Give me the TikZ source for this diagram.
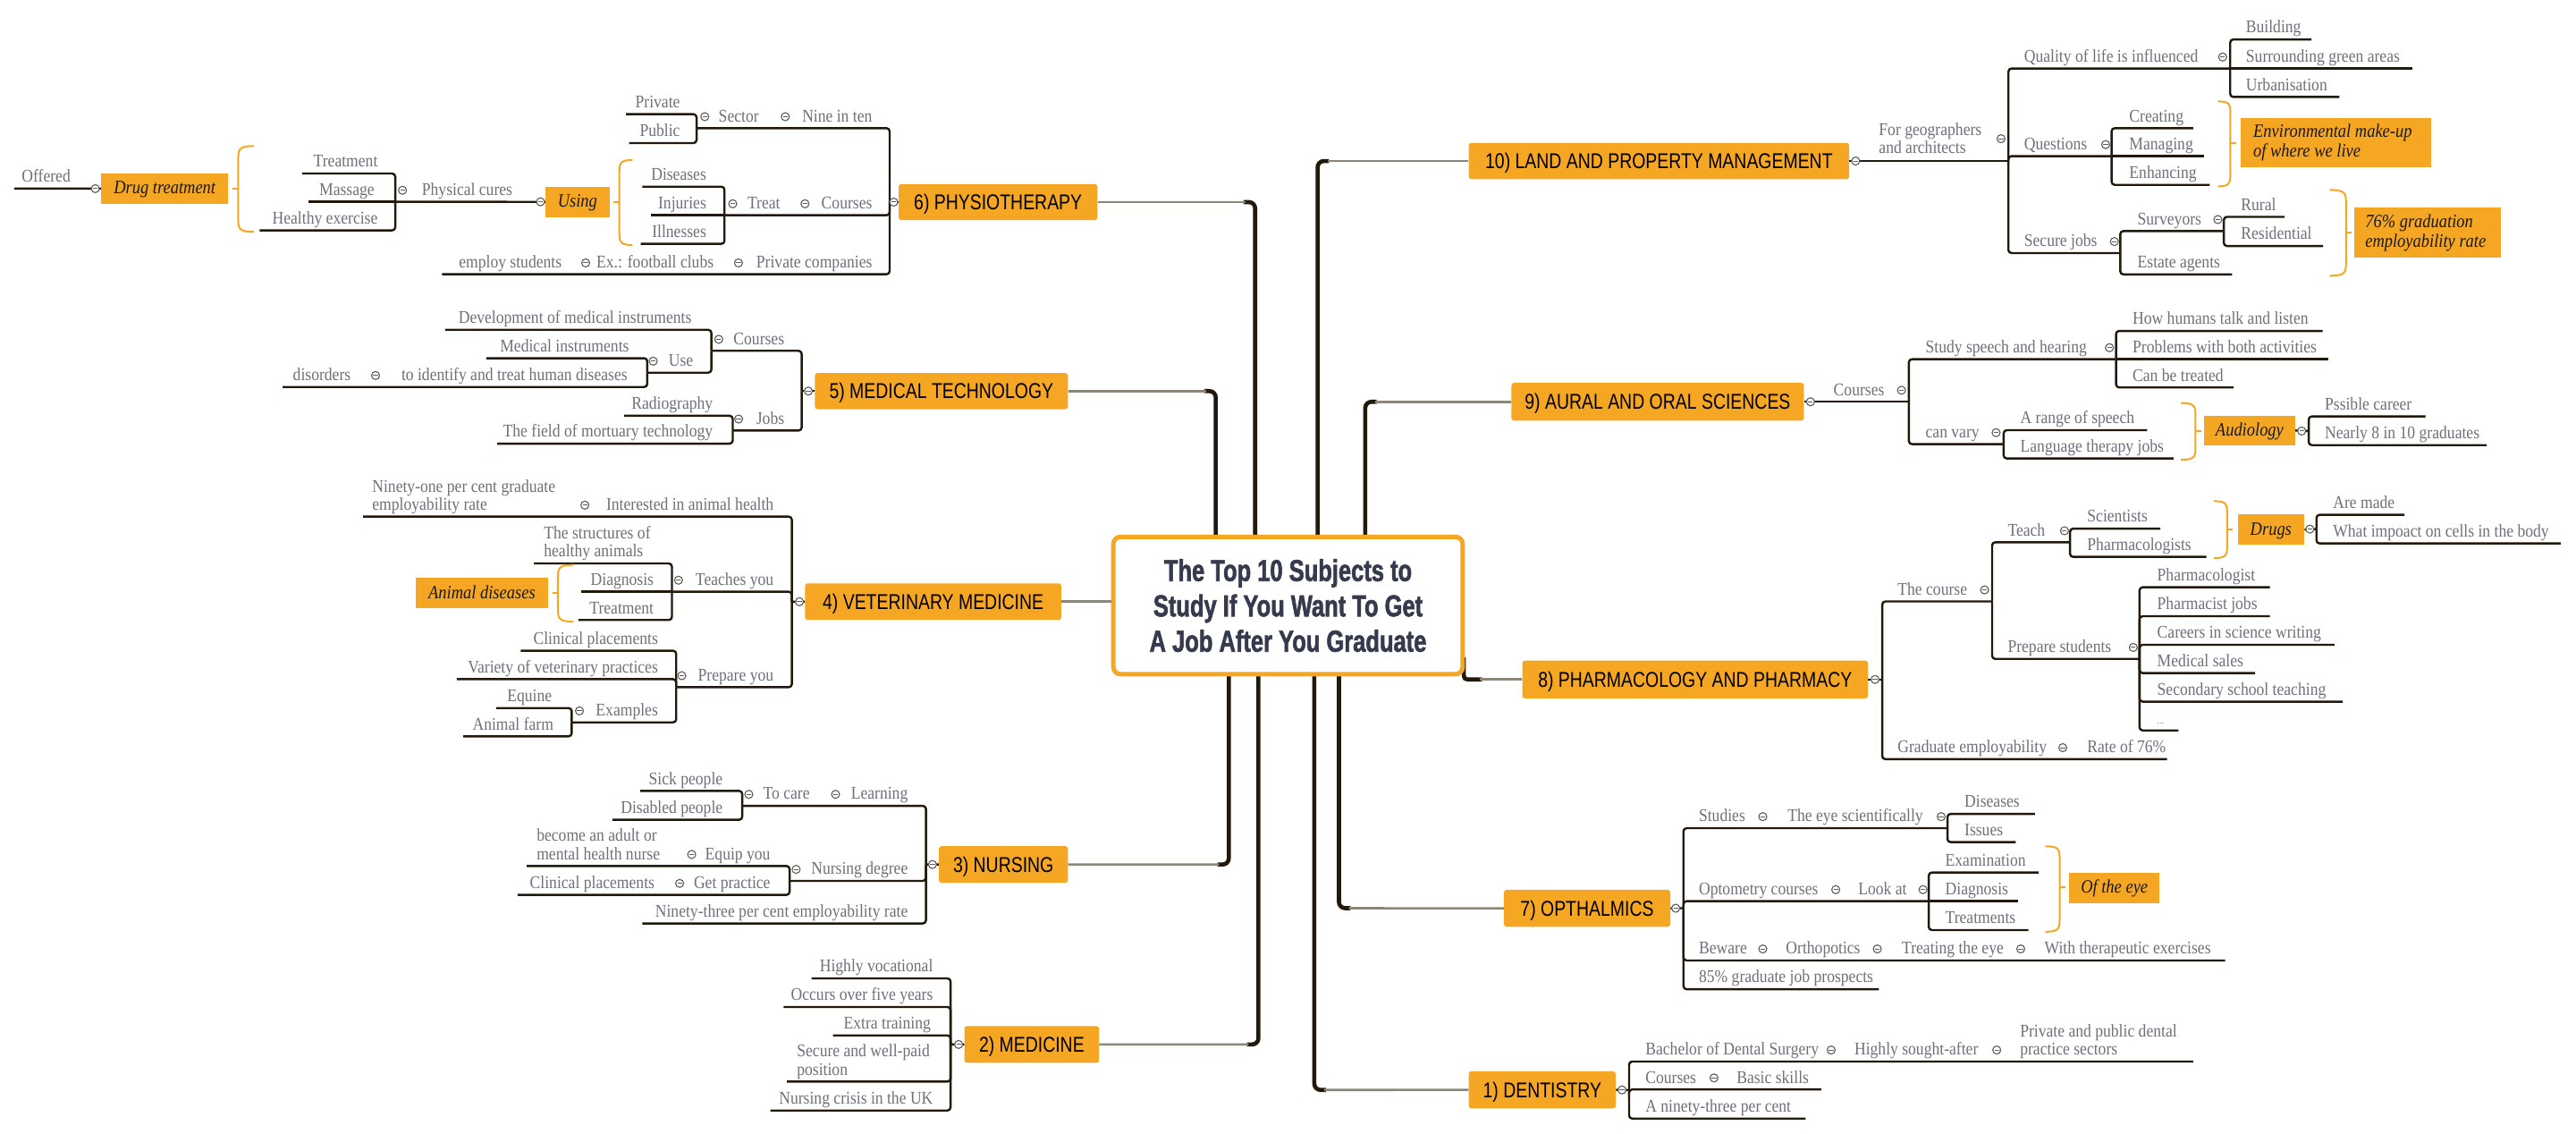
\documentclass[tikz,border=0pt]{standalone}
\usepackage{fontspec}
\setmainfont{Liberation Serif}
\newfontfamily\dtfont{Liberation Serif}[FakeStretch=0.88]
\newfontfamily\brfont{Liberation Sans}[FakeStretch=0.81]
\newfontfamily\ttlfont{Liberation Sans}[FakeStretch=0.75, BoldFeatures={FakeBold=1.6}]
\usetikzlibrary{fit}
\definecolor{orng}{HTML}{F5A623}
\definecolor{spinec}{HTML}{22190B}
\definecolor{connc}{HTML}{8C8678}
\definecolor{txtc}{HTML}{70707C}
\definecolor{mkc}{HTML}{5C5C5C}
\definecolor{ttlc}{HTML}{363A4E}
\tikzset{
  txt/.style={inner sep=0pt, text=txtc, font=\dtfont\fontsize{20}{24}\selectfont},
  tree/.style={draw=spinec, line width=2.4pt, rounded corners=3.5pt},
  spine/.style={draw=spinec, line width=4.6pt, rounded corners=7pt},
  connline/.style={draw=connc, line width=2.6pt},
  mk/.style={circle, draw=mkc, fill=white, line width=1.1pt, minimum size=9pt, inner sep=0pt,
    path picture={\draw[mkc,line width=1pt] ([xshift=-2.6pt]path picture bounding box.center) -- ([xshift=2.6pt]path picture bounding box.center);}},
  brbox/.style={fill=orng, rounded corners=3pt, inner sep=0pt},
  brtext/.style={inner sep=0pt, text=black, text height=17pt, text depth=0pt, font=\brfont\fontsize{24}{28}\selectfont},
  sumbox/.style={fill=orng, inner sep=0pt},
  sumtext/.style={inner sep=0pt, text=black!90, text height=12pt, text depth=0pt, font=\dtfont\itshape\fontsize{21}{22}\selectfont},
  brace/.style={draw=orng, line width=2pt},
  rootbox/.style={draw=orng, line width=5pt, rounded corners=8pt, fill=white, inner sep=0pt},
  roottext/.style={inner sep=0pt, align=center, text=ttlc, font=\ttlfont\bfseries\fontsize{34}{39.5}\selectfont},
}
\newcommand\LT[4]{\node[txt,anchor=base east] (#1) at (#2,#3-3.9) {#4};}
\newcommand\RT[4]{\node[txt,anchor=base west] (#1) at (#2,#3-3.9) {#4};}
\newcommand\MK[3]{\node[mk] (#1) at (#2,#3) {};}
\newcommand\TB[4]{\draw[tree] (#1,#2) -- (#3,#2) -- (#3,#4);}
\newcommand\TS[3]{\draw[tree] (#1,#2) -- (#3,#2);}
\newcommand\LBr[5]{\draw[brace] (#2,#3) .. controls (#1,#3) and (#1,#3+2) .. (#1,#3+9) -- (#1,#4-9) .. controls (#1,#4-2) and (#1,#4) .. (#2,#4); \draw[brace] (#1,#5) -- (#1-3.5,#5);}
\newcommand\RBr[5]{\draw[brace] (#1,#3) .. controls (#2,#3) and (#2,#3+2) .. (#2,#3+9) -- (#2,#4-9) .. controls (#2,#4-2) and (#2,#4) .. (#1,#4); \draw[brace] (#2,#5) -- (#2+3.5,#5);}
% branch box: name, x1, y1, x2, y2, text
\newcommand\BR[6]{\node[brbox, fit={(#2,#3)(#4,#5)}] (#1) {}; \node[brtext] (#1t) at (#1.center) {#6};}
\newcommand\SB[6]{\node[sumbox, fit={(#2,#3)(#4,#5)}] (#1) {}; \node[sumtext] (#1t) at (#1.center) {#6};}
\begin{document}
\begin{tikzpicture}[x=1.8374pt,y=-1.8374pt]
\useasboundingbox (0,0) rectangle (1568,690);
\fill[white] (0,0) rectangle (1568,690);

% ---------- main spines ----------
\draw[spine] (757,123) -- (764,123) -- (764,335);
\draw[spine] (733,238) -- (740,238) -- (740,335);
\draw[spine] (741,526.1) -- (748,526.1) -- (748,402);
\draw[spine] (759,635.6) -- (766,635.6) -- (766,402);
\draw[spine] (809,98) -- (802,98) -- (802,335);
\draw[spine] (838,244.5) -- (831,244.5) -- (831,335);
\draw[spine] (822,552.7) -- (815,552.7) -- (815,402);
\draw[spine] (807,663.3) -- (800,663.3) -- (800,402);
\draw[spine, rounded corners=4pt] (891,400) -- (891,413.5) -- (902,413.5);

% ---------- root ----------
\node[rootbox, fit={(677.7,326.7)(890.3,410.3)}] (root) {};
\node[roottext] (roott) at (784,368.5) {The Top 10 Subjects to\\Study If You Want To Get\\A Job After You Graduate};

% ---------- branch boxes ----------
\BR{b6}{547}{112}{668}{134}{6) PHYSIOTHERAPY}
\BR{b5}{496}{227}{650}{249}{5) MEDICAL TECHNOLOGY}
\BR{b4}{490}{355}{646}{377.3}{4) VETERINARY MEDICINE}
\BR{b3}{571.5}{514.9}{650}{537.3}{3) NURSING}
\BR{b2}{587}{624.4}{669}{646.8}{2) MEDICINE}
\BR{b10}{894}{87}{1125.6}{109}{10) LAND AND PROPERTY MANAGEMENT}
\BR{b9}{920}{233}{1098}{256}{9) AURAL AND ORAL SCIENCES}
\BR{b8}{926.6}{402}{1137}{425}{8) PHARMACOLOGY AND PHARMACY}
\BR{b7}{915.4}{541.5}{1016.7}{564}{7) OPTHALMICS}
\BR{b1}{894}{652}{983.5}{674.5}{1) DENTISTRY}

% ---------- grey connectors ----------
\draw[connline] (b6.east) -- (758,123);
\draw[connline] (b5.east) -- (734,238);
\draw[connline] (b4.east) -- (b4.east -| root.west);
\draw[connline] (b3.east) -- (742,526.1);
\draw[connline] (b2.east) -- (760,635.6);
\draw[connline] (b10.west) -- (808,98);
\draw[connline] (b9.west) -- (837,244.5);
\draw[connline] (b8.west) -- (901,413.5);
\draw[connline] (b7.west) -- (821,552.7);
\draw[connline] (b1.west) -- (806,663.3);

% ---------- summary boxes ----------
\SB{us}{332}{113.7}{371}{132}{Using}
\SB{dt}{61.5}{105.6}{139}{123.9}{Drug treatment}
\SB{ad}{253}{351.6}{333.6}{370.1}{Animal diseases}
\node[sumbox, fit={(1364,72)(1480,102)}] (env) {};
\node[sumtext, anchor=west] (envt1) at (1371.5,80.4) {Environmental make-up};
\node[sumtext, anchor=west] (envt2) at (1371.5,92.5) {of where we live};
\node[sumbox, fit={(1433,126.5)(1522,156.6)}] (grd) {};
\node[sumtext, anchor=west] (grdt1) at (1439.6,135) {76\% graduation};
\node[sumtext, anchor=west] (grdt2) at (1439.6,147.3) {employability rate};
\SB{au}{1341.6}{253}{1397}{271}{Audiology}
\SB{dr}{1362}{313}{1402.6}{331.5}{Drugs}
\SB{oe}{1259.6}{531}{1314.4}{549.7}{Of the eye}

% ---------- PHYSIOTHERAPY ----------
\draw[tree] (b6.west) -- (541.5,123);
\TB{424}{78}{541.5}{123}
\TB{381}{69.5}{424}{78}
\TB{383}{87.1}{424}{78}
\TB{441}{131}{541.5}{123}
\TB{391}{113.6}{441}{131}
\TS{396}{131}{441}
\TB{390}{148.4}{441}{131}
\draw[tree] (us.west) -- (240.6,122.8);
\TB{184}{105.6}{240.6}{122.8}
\TS{188}{122.8}{240.6}
\TB{158}{140.2}{240.6}{122.8}
\draw[tree] (dt.west) -- (8.7,114.8);
\TB{269}{166.9}{541.5}{123}
\LBr{377}{385}{97.4}{149.1}{122.8}
\LBr{145}{154.5}{88.9}{141.1}{114.8}
\LT{p1}{531}{78}{Nine in ten}
\LT{p2}{462}{78}{Sector}
\LT{p3}{414}{69.5}{Private}
\LT{p4}{414}{87.1}{Public}
\LT{p5}{531}{131}{Courses}
\LT{p6}{475}{131}{Treat}
\LT{p7}{430}{113.6}{Diseases}
\LT{p8}{430}{131}{Injuries}
\LT{p9}{430}{148.4}{Illnesses}
\LT{p10}{312}{122.8}{Physical cures}
\LT{p11}{230}{105.6}{Treatment}
\LT{p12}{228}{122.8}{Massage}
\LT{p13}{230}{140.2}{Healthy exercise}
\LT{p14}{43}{114.8}{Offered}
\LT{p15}{531}{166.9}{Private companies}
\LT{p16}{434.5}{166.9}{Ex.: football clubs}
\LT{p17}{342}{166.9}{employ students}
\MK{b6m}{544}{123}
\MK{p1m}{478}{71}
\MK{p2m}{429}{71}
\MK{p5m}{490}{124}
\MK{p6m}{446}{124}
\MK{usm}{329}{122.8}
\MK{p10m}{245}{115.8}
\MK{dtm}{58}{114.8}
\MK{p15m}{449.5}{160}
\MK{p16m}{356.5}{160}

% ---------- MEDICAL TECHNOLOGY ----------
\draw[tree] (b5.west) -- (488,238);
\TB{433}{213.5}{488}{238}
\TB{271}{200.7}{433}{213.5}
\TB{394}{226.8}{433}{213.5}
\TB{296}{218}{394}{226.8}
\TB{172}{235.5}{394}{226.8}
\TB{446}{262}{488}{238}
\TB{380}{253}{446}{262}
\TB{302.7}{270}{446}{262}
\LT{m1}{477.5}{213.5}{Courses}
\LT{m2}{421}{200.7}{Development of medical instruments}
\LT{m3}{422}{226.8}{Use}
\LT{m4}{383}{218}{Medical instruments}
\LT{m5}{382}{235.5}{to identify and treat human diseases}
\LT{m6}{213.6}{235.5}{disorders}
\LT{m7}{477.5}{262}{Jobs}
\LT{m8}{434}{253}{Radiography}
\LT{m9}{434}{270}{The field of mortuary technology}
\MK{b5m}{492}{238}
\MK{m1m}{437.5}{206.5}
\MK{m3m}{397.6}{219.8}
\MK{m5m}{228.6}{228.5}
\MK{m7m}{449.6}{255}

% ---------- VETERINARY MEDICINE ----------
\draw[tree] (b4.west) -- (482,366.2);
\TB{221}{314.4}{482}{366.2}
\TB{409}{360.1}{482}{366.2}
\TB{325}{342.9}{409}{360.1}
\TS{354}{360.1}{409}
\TB{352}{377.3}{409}{360.1}
\TB{411.6}{418.2}{482}{366.2}
\TB{317}{396}{411.6}{418.2}
\TB{278}{413.3}{411.6}{418.2}
\TB{348}{439.6}{411.6}{418.2}
\TB{302}{430.9}{348}{439.6}
\TB{282}{448.1}{348}{439.6}
\LBr{339.6}{349}{343.8}{378.3}{361}
\LT{v1}{471}{314.4}{Interested in animal health}
\RT{v2}{226.5}{303.4}{Ninety-one per cent graduate}
\RT{v3}{226.5}{314.4}{employability rate}
\LT{v4}{471}{360.1}{Teaches you}
\RT{v5}{331}{331.9}{The structures of}
\RT{v6}{331}{342.9}{healthy animals}
\LT{v7}{398}{360.1}{Diagnosis}
\LT{v8}{398}{377.3}{Treatment}
\LT{v9}{471}{418.2}{Prepare you}
\LT{v10}{400.6}{396}{Clinical placements}
\LT{v11}{400.6}{413.3}{Variety of veterinary practices}
\LT{v12}{400.6}{439.6}{Examples}
\LT{v13}{336}{430.9}{Equine}
\LT{v14}{337}{448.1}{Animal farm}
\MK{b4m}{486.6}{366.2}
\MK{v1m}{356}{307.4}
\MK{v4m}{413}{353.1}
\MK{v9m}{415}{411.2}
\MK{v12m}{352.7}{432.6}

% ---------- NURSING ----------
\draw[tree] (b3.west) -- (563.6,526.1);
\TB{451.8}{490.4}{563.6}{526.1}
\TB{389.7}{481.3}{451.8}{490.4}
\TB{372.8}{498.9}{451.8}{490.4}
\TB{480.6}{536.1}{563.6}{526.1}
\TB{320.6}{527}{480.6}{536.1}
\TB{315}{544.6}{480.6}{536.1}
\TB{391}{562}{563.6}{526.1}
\LT{n1}{552.7}{490.4}{Learning}
\LT{n2}{493}{490.4}{To care}
\LT{n3}{440}{481.3}{Sick people}
\LT{n4}{440}{498.9}{Disabled people}
\LT{n5}{552.7}{536.1}{Nursing degree}
\LT{n6}{469}{527}{Equip you}
\RT{n7}{326.6}{516}{become an adult or}
\RT{n8}{326.6}{527}{mental health nurse}
\LT{n9}{469}{544.6}{Get practice}
\LT{n10}{398.5}{544.6}{Clinical placements}
\LT{n11}{552.7}{562}{Ninety-three per cent employability rate}
\MK{b3m}{567.6}{526.1}
\MK{n1m}{508.6}{483.4}
\MK{n2m}{455.8}{483.4}
\MK{n5m}{484.6}{529.1}
\MK{n6m}{421}{520}
\MK{n9m}{413.7}{537.6}

% ---------- MEDICINE ----------
\draw[tree] (b2.west) -- (578.6,635.6);
\TB{494}{595.4}{578.6}{635.6}
\TB{477}{612.8}{578.6}{635.6}
\TB{507}{630.1}{578.6}{635.6}
\TB{479}{658.2}{578.6}{635.6}
\TB{469}{675.8}{578.6}{635.6}
\LT{c1}{568}{595.4}{Highly vocational}
\LT{c2}{568}{612.8}{Occurs over five years}
\LT{c3}{566.6}{630.1}{Extra training}
\RT{c4}{485}{647.2}{Secure and well-paid}
\RT{c5}{485}{658.2}{position}
\LT{c6}{568}{675.8}{Nursing crisis in the UK}
\MK{b2m}{583.5}{635.6}

% ---------- LAND AND PROPERTY ----------
\draw[tree] (b10.east) -- (1222.5,98);
\TB{1357.5}{41.7}{1222.5}{98}
\TB{1407}{24}{1357.5}{41.7}
\TS{1468.5}{41.7}{1357.5}
\TB{1424}{59}{1357.5}{41.7}
\TB{1285.3}{95}{1222.5}{98}
\TB{1335}{78}{1285.3}{95}
\TS{1341.6}{95}{1285.3}
\TB{1345}{112.5}{1285.3}{95}
\TB{1290.6}{154}{1222.5}{98}
\TB{1353.6}{140.6}{1290.6}{154}
\TB{1390.6}{132}{1353.6}{140.6}
\TB{1414}{149.7}{1353.6}{140.6}
\TB{1358.6}{167}{1290.6}{154}
\RBr{1350}{1357.6}{61.7}{113.4}{87}
\RBr{1418}{1428}{115.6}{167.8}{141.5}
\RT{l1}{1143.6}{86.5}{For geographers}
\RT{l2}{1143.6}{97.4}{and architects}
\RT{l3}{1232}{41.7}{Quality of life is influenced}
\RT{l4}{1367}{24}{Building}
\RT{l5}{1367}{41.7}{Surrounding green areas}
\RT{l6}{1367}{59}{Urbanisation}
\RT{l7}{1232}{95}{Questions}
\RT{l8}{1296}{78}{Creating}
\RT{l9}{1296}{95}{Managing}
\RT{l10}{1296}{112.5}{Enhancing}
\RT{l11}{1232}{154}{Secure jobs}
\RT{l12}{1301}{140.6}{Surveyors}
\RT{l13}{1364}{132}{Rural}
\RT{l14}{1364}{149.7}{Residential}
\RT{l15}{1301}{167}{Estate agents}
\MK{b10m}{1129.5}{98}
\MK{l1m}{1218}{84.4}
\MK{l3m}{1352.9}{34.7}
\MK{l7m}{1281.7}{88}
\MK{l11m}{1287}{147}
\MK{l12m}{1350}{133.6}

% ---------- AURAL AND ORAL ----------
\draw[tree] (b9.east) -- (1161.9,244.5);
\TB{1288}{218.6}{1161.9}{244.5}
\TB{1413.7}{201.4}{1288}{218.6}
\TS{1417}{218.6}{1288}
\TB{1359.6}{235.8}{1288}{218.6}
\TB{1219.6}{270.3}{1161.9}{244.5}
\TB{1307}{261.8}{1219.6}{270.3}
\TB{1323}{279}{1219.6}{270.3}
\draw[tree] (au.east) -- (1405.3,262.3);
\TB{1476.4}{253.4}{1405.3}{262.3}
\TB{1513.6}{270.9}{1405.3}{262.3}
\RBr{1327.5}{1336.4}{245.3}{279.8}{262.3}
\RT{a1}{1116}{244.5}{Courses}
\RT{a2}{1172}{218.6}{Study speech and hearing}
\RT{a3}{1298}{201.4}{How humans talk and listen}
\RT{a4}{1298}{218.6}{Problems with both activities}
\RT{a5}{1298}{235.8}{Can be treated}
\RT{a6}{1172}{270.3}{can vary}
\RT{a7}{1229.7}{261.8}{A range of speech}
\RT{a8}{1229.7}{279}{Language therapy jobs}
\RT{a9}{1415}{253.4}{Pssible career}
\RT{a10}{1415}{270.9}{Nearly 8 in 10 graduates}
\MK{b9m}{1102}{244.5}
\MK{a1m}{1157.4}{237.5}
\MK{a2m}{1284}{211.6}
\MK{a6m}{1215}{263.3}
\MK{aum}{1401}{262.3}

% ---------- PHARMACOLOGY ----------
\draw[tree] (b8.east) -- (1145.7,413.5);
\TB{1212.6}{366}{1145.7}{413.5}
\TB{1260}{330}{1212.6}{366}
\TB{1315}{321.7}{1260}{330}
\TB{1343}{338.9}{1260}{330}
\draw[tree] (dr.east) -- (1410,322);
\TB{1463.6}{313.3}{1410}{322}
\TB{1558.7}{330.7}{1410}{322}
\TB{1302.3}{401}{1212.6}{366}
\TB{1381.6}{357.4}{1302.3}{401}
\TB{1381.6}{375}{1302.3}{401}
\TB{1421}{392.4}{1302.3}{401}
\TB{1372.6}{409.6}{1302.3}{401}
\TB{1426}{427}{1302.3}{401}
\TB{1326}{444.5}{1302.3}{401}
\TB{1319}{462}{1145.7}{413.5}
\RBr{1347.6}{1355.7}{305}{339.6}{322}
\RT{h1}{1155}{366}{The course}
\RT{h2}{1222}{330}{Teach}
\RT{h3}{1270.4}{321.7}{Scientists}
\RT{h4}{1270.4}{338.9}{Pharmacologists}
\RT{h5}{1420}{313.3}{Are made}
\RT{h6}{1420}{330.7}{What impoact on cells in the body}
\RT{h7}{1222}{401}{Prepare students}
\RT{h8}{1313}{357.4}{Pharmacologist}
\RT{h9}{1313}{375}{Pharmacist jobs}
\RT{h10}{1313}{392.4}{Careers in science writing}
\RT{h11}{1313}{409.6}{Medical sales}
\RT{h12}{1313}{427}{Secondary school teaching}
\node[txt, anchor=base west, font=\dtfont\fontsize{11}{12}\selectfont] (h13) at (1313,440.6) {...};
\RT{h14}{1155}{462}{Graduate employability}
\RT{h15}{1270.4}{462}{Rate of 76\%}
\MK{b8m}{1141.3}{413.5}
\MK{h1m}{1208}{359}
\MK{h2m}{1256.6}{323}
\MK{drm}{1406}{322}
\MK{h7m}{1298.5}{394}
\MK{h14m}{1255.6}{455}

% ---------- OPTHALMICS ----------
\draw[tree] (b7.east) -- (1024.7,552.7);
\TB{1185.4}{504}{1024.7}{552.7}
\TB{1238.7}{495.3}{1185.4}{504}
\TB{1227}{512.5}{1185.4}{504}
\TB{1174}{548.4}{1024.7}{552.7}
\TB{1241}{531}{1174}{548.4}
\TS{1228.4}{548.4}{1174}
\TB{1234.7}{566}{1174}{548.4}
\TB{1354.4}{584.5}{1024.7}{552.7}
\TB{1143.7}{602}{1024.7}{552.7}
\RBr{1245}{1253.7}{515}{567}{540}
\RT{o1}{1034}{504}{Studies}
\RT{o2}{1088}{504}{The eye scientifically}
\RT{o3}{1195.7}{495.3}{Diseases}
\RT{o4}{1195.7}{512.5}{Issues}
\RT{o5}{1034}{548.4}{Optometry courses}
\RT{o6}{1131}{548.4}{Look at}
\RT{o7}{1184}{531}{Examination}
\RT{o8}{1184}{548.4}{Diagnosis}
\RT{o9}{1184}{566}{Treatments}
\RT{o10}{1034}{584.5}{Beware}
\RT{o11}{1087}{584.5}{Orthopotics}
\RT{o12}{1157.6}{584.5}{Treating the eye}
\RT{o13}{1244.4}{584.5}{With therapeutic exercises}
\RT{o14}{1034}{602}{85\% graduate job prospects}
\MK{b7m}{1020}{552.7}
\MK{o1m}{1073}{497}
\MK{o2m}{1181.6}{497}
\MK{o5m}{1117.4}{541.4}
\MK{o6m}{1170.5}{541.4}
\MK{o10m}{1073}{577.5}
\MK{o11m}{1142.7}{577.5}
\MK{o12m}{1230}{577.5}

% ---------- DENTISTRY ----------
\draw[tree] (b1.east) -- (991.6,663.3);
\TB{1335}{646}{991.6}{663.3}
\TB{1108.6}{663}{991.6}{663.3}
\TB{1099}{680.7}{991.6}{663.3}
\RT{t1}{1001.5}{646}{Bachelor of Dental Surgery}
\RT{t2}{1128.7}{646}{Highly sought-after}
\RT{t3}{1229.5}{635}{Private and public dental}
\RT{t4}{1229.5}{646}{practice sectors}
\RT{t5}{1001.5}{663}{Courses}
\RT{t6}{1057}{663}{Basic skills}
\RT{t7}{1001.5}{680.7}{A ninety-three per cent}
\MK{b1m}{987.3}{663.3}
\MK{t1m}{1114.6}{639}
\MK{t2m}{1215.4}{639}
\MK{t5m}{1043.3}{656}
\end{tikzpicture}
\end{document}
